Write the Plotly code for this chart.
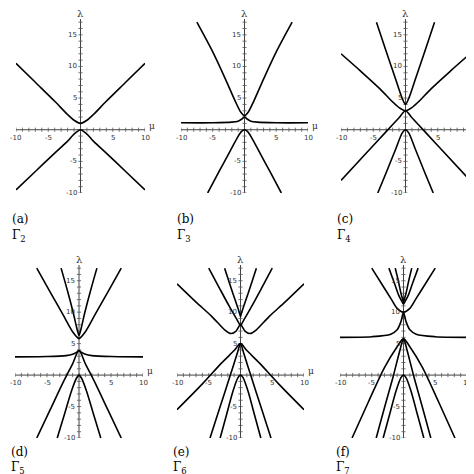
import plotly.graph_objects as go

# Each curve is given for mu<=0 (ending at the vertex mu=0); the chart is symmetric about mu=0
panel_letters = ["(a)", "(b)", "(c)", "(d)", "(e)", "(f)"]
panel_gammas = ["2", "3", "4", "5", "6", "7"]

curves_a = [([-10, -7, -4, -2, -1, 0], [10.5, 7.5, 4.5, 2.4, 1.5, 1.0]),
            ([-10, -7, -4, -2, -1, 0], [-9.5, -6.6, -3.7, -1.8, -0.7, 0])]
curves_b = [([-10, -5, -2, -1, -0.4, 0], [1.1, 1.1, 1.2, 1.35, 1.7, 2.0]),
            ([-7.5, -5, -3, -1.5, -0.6, 0], [17, 12.3, 8.0, 4.6, 2.8, 2.2]),
            ([-5.8, -4, -2.5, -1.2, -0.5, 0], [-10, -6.6, -3.8, -1.4, -0.3, 0])]
curves_c = [([-10, -7, -4, -2, -1, 0], [12, 9.3, 6.5, 4.4, 3.5, 3.0]),
            ([-4.5, -3, -1.5, -0.6, 0], [17, 12.4, 7.9, 5.2, 4.0]),
            ([-10, -6, -3, -1, 0], [-8, -3.6, -0.3, 1.9, 3.0]),
            ([-4.3, -3, -1.5, -0.5, 0], [-10, -6.8, -3.0, -0.5, 0])]
curves_d = [([-6.6, -4.5, -2.5, -1, 0], [17, 13.2, 9.6, 6.9, 5.8]),
            ([-2.8, -1.8, -0.9, -0.3, 0], [17, 13.4, 9.9, 7.3, 6.3]),
            ([-10, -5, -2, -1, -0.4, 0], [2.9, 2.95, 3.1, 3.3, 3.6, 3.9]),
            ([-6.6, -4.5, -2.5, -1, 0], [-10, -5.5, -1.2, 1.8, 3.9]),
            ([-3.4, -2.2, -1.2, -0.4, 0], [-10, -6.0, -2.6, -0.5, 0])]
curves_e = [([-10, -7, -4.5, -2.5, -1.5, -0.7, 0], [14.5, 11.6, 9.3, 7.2, 6.6, 7.0, 8.0]),
            ([-5, -3.3, -1.8, -0.6, 0], [17, 13.8, 11.0, 8.9, 8.0]),
            ([-2.5, -1.6, -0.8, -0.2, 0], [17, 14.2, 11.8, 10, 9.3]),
            ([-10, -6, -3, -1, 0], [-5.5, -1.4, 1.9, 3.9, 5.0]),
            ([-4.8, -3.2, -1.6, -0.5, 0], [-10, -5.0, 0, 3.5, 5.0]),
            ([-3.2, -2.2, -1.2, -0.4, 0], [-10, -6.3, -2.6, -0.4, 0])]
curves_f = [([-10, -5, -2, -1, -0.4, 0], [6.0, 6.1, 6.5, 7.2, 8.5, 10]),
            ([-5, -3.5, -2, -1, 0], [17, 14.6, 12.2, 10.6, 10]),
            ([-2.3, -1.5, -0.8, -0.3, 0], [17, 14.8, 12.8, 11.8, 11.3]),
            ([-1.3, -0.8, -0.4, -0.15, 0], [17, 14.9, 13.0, 12.1, 11.6]),
            ([-8.1, -5.5, -3, -1, 0], [-10, -4.2, 1.2, 4.5, 5.8]),
            ([-4.3, -3, -1.7, -0.5, 0], [-10, -5.2, -0.5, 4.2, 5.8]),
            ([-3.2, -2.2, -1.2, -0.4, 0], [-10, -6.3, -2.6, -0.4, 0])]
panels = [curves_a, curves_b, curves_c, curves_d, curves_e, curves_f]

x_tick_labels = [-10, -5, 5, 10]
y_tick_labels = [-10, -5, 5, 10, 15]
minor_ticks_x = list(range(-10, 11))
minor_ticks_y = list(range(-10, 18))

W = 474
geom = [(8, 137, 185, 11), (173, 300, 185, 11), (333, 462, 185, 11),
        (7, 135, 430, 257), (169, 296, 430, 257), (332, 459, 430, 257)]
label_y = [(211, 228), (211, 228), (211, 228), (453, 470), (453, 470), (453, 470)]

fig = go.Figure()
layout = dict(width=W, height=W, margin=dict(l=0, r=0, t=0, b=0),
              paper_bgcolor="white", plot_bgcolor="white", showlegend=False)
annotations = []
for i, curves in enumerate(panels):
    n = i + 1
    xa = "x" if n == 1 else f"x{n}"
    ya = "y" if n == 1 else f"y{n}"
    xl, xr, yb, yt = geom[i]
    layout["xaxis" if n == 1 else f"xaxis{n}"] = dict(
        domain=[xl / W, xr / W], range=[-10, 10], visible=False, anchor=ya)
    layout["yaxis" if n == 1 else f"yaxis{n}"] = dict(
        domain=[1 - yb / W, 1 - yt / W], range=[-10, 17.5], visible=False, anchor=xa)
    fig.add_trace(go.Scatter(x=[-10, 10], y=[0, 0], mode="lines", line=dict(color="#444", width=1),
                             xaxis=xa, yaxis=ya, hoverinfo="skip"))
    fig.add_trace(go.Scatter(x=[0, 0], y=[-10, 17.5], mode="lines", line=dict(color="#444", width=1),
                             xaxis=xa, yaxis=ya, hoverinfo="skip"))
    fig.add_trace(go.Scatter(x=minor_ticks_x, y=[0] * len(minor_ticks_x), mode="markers",
                             marker=dict(symbol="line-ns", size=3, line=dict(color="#555", width=0.8)),
                             xaxis=xa, yaxis=ya, hoverinfo="skip"))
    fig.add_trace(go.Scatter(x=[0] * len(minor_ticks_y), y=minor_ticks_y, mode="markers",
                             marker=dict(symbol="line-ew", size=3, line=dict(color="#555", width=0.8)),
                             xaxis=xa, yaxis=ya, hoverinfo="skip"))
    for xs, ys in curves:
        fx = xs + [-v for v in reversed(xs[:-1])]
        fy = ys + list(reversed(ys[:-1]))
        fig.add_trace(go.Scatter(x=fx, y=fy, mode="lines",
                                 line=dict(color="black", width=1.6, shape="spline", smoothing=0.8),
                                 xaxis=xa, yaxis=ya))
    for t in x_tick_labels:
        annotations.append(dict(x=t, y=0, xref=xa, yref=ya, text=str(t), showarrow=False,
                                yshift=-8, font=dict(size=7, color="#333", family="DejaVu Sans")))
    for t in y_tick_labels:
        annotations.append(dict(x=0, y=t, xref=xa, yref=ya, text=str(t), showarrow=False,
                                xanchor="right", xshift=-2, font=dict(size=7, color="#333", family="DejaVu Sans")))
    annotations.append(dict(x=0, y=17.5, xref=xa, yref=ya, text="λ", showarrow=False,
                            yanchor="bottom", yshift=-2, font=dict(size=10, color="#333", family="DejaVu Serif")))
    annotations.append(dict(x=10, y=0, xref=xa, yref=ya, text="μ", showarrow=False,
                            xanchor="left", xshift=2, yshift=4, font=dict(size=9, color="#333", family="DejaVu Serif")))
    ly1, ly2 = label_y[i]
    annotations.append(dict(x=(xl - 6) / W, y=1 - ly1 / W, xref="paper", yref="paper", text=panel_letters[i],
                            showarrow=False, xanchor="left", font=dict(size=12, color="black", family="DejaVu Serif")))
    annotations.append(dict(x=(xl - 6) / W, y=1 - ly2 / W, xref="paper", yref="paper",
                            text="Γ<sub>" + panel_gammas[i] + "</sub>",
                            showarrow=False, xanchor="left", font=dict(size=12, color="black", family="DejaVu Serif")))

layout["annotations"] = annotations
fig.update_layout(**layout)
fig.write_html("out.html")
